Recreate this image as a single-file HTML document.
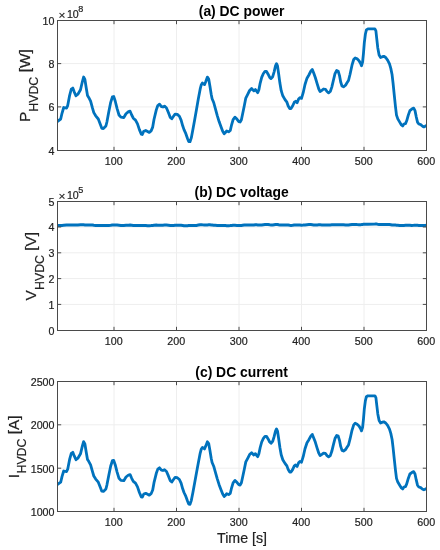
<!DOCTYPE html>
<html><head><meta charset="utf-8"><title>HVDC plots</title>
<style>
html,body{margin:0;padding:0;background:#fff;}
body{width:440px;height:550px;overflow:hidden;}
svg{display:block;}
text{font-family:"Liberation Sans", Arial, Helvetica, sans-serif;fill:#222222;stroke:#222222;stroke-width:0.2px;}
.tk{font-size:10.7px;}
.ti{font-size:13.9px;font-weight:bold;fill:#000;stroke:none;}
.yl{font-size:15.4px;}
.xl{font-size:14.2px;}
.sub{font-size:12.3px;}
.ex{font-size:10.6px;}
.mul{font-size:11.8px;}
.sup{font-size:9.1px;}
.grid line{stroke:#eeeeee;stroke-width:1;}
.axl line{stroke:#4a4a4a;stroke-width:1;}
.curve{fill:none;stroke:#0072BD;stroke-width:3;stroke-linejoin:round;stroke-linecap:butt;}
</style></head><body>
<svg width="440" height="550" viewBox="0 0 440 550">
<rect x="0" y="0" width="440" height="550" fill="#ffffff"/>

<g class="grid">
<line x1="114.0" y1="20.5" x2="114.0" y2="150.5"/>
<line x1="176.5" y1="20.5" x2="176.5" y2="150.5"/>
<line x1="239.0" y1="20.5" x2="239.0" y2="150.5"/>
<line x1="301.5" y1="20.5" x2="301.5" y2="150.5"/>
<line x1="364.0" y1="20.5" x2="364.0" y2="150.5"/>
<line x1="57.5" y1="106.9" x2="426.5" y2="106.9"/>
<line x1="57.5" y1="63.6" x2="426.5" y2="63.6"/>
</g>
<clipPath id="ca"><rect x="57.5" y="20.5" width="369.0" height="130.0"/></clipPath>
<path class="curve" style="stroke-width:2.8" clip-path="url(#ca)" d="M57.3,121.5 L60.7,119.0 L62.0,113.3 L63.7,107.5 L66.5,108.2 L67.7,105.6 L69.6,95.5 L71.3,89.1 L72.8,88.1 L74.1,91.6 L76.0,95.8 L77.9,94.2 L80.5,89.7 L82.4,81.5 L83.6,77.0 L84.9,79.5 L86.2,87.8 L87.5,95.5 L88.7,97.4 L90.6,101.2 L92.5,108.2 L93.8,112.6 L95.7,115.8 L98.3,119.0 L100.2,124.1 L101.8,128.3 L103.4,128.5 L105.9,126.0 L106.9,122.0 L108.8,111.8 L110.7,102.3 L112.4,96.8 L113.7,96.5 L115.2,101.0 L117.1,108.6 L119.0,115.0 L120.9,117.2 L123.8,117.5 L126.0,113.7 L128.5,111.6 L130.1,111.2 L131.7,115.0 L133.3,118.2 L135.5,120.1 L137.5,123.9 L139.4,129.6 L141.3,134.1 L142.3,134.5 L143.8,131.2 L145.7,130.5 L147.6,131.5 L149.3,132.4 L151.1,130.9 L152.7,127.1 L154.0,119.5 L156.3,109.9 L157.8,105.5 L159.5,104.2 L161.4,106.7 L162.9,107.0 L164.5,106.1 L166.5,108.0 L168.4,112.5 L170.3,117.5 L171.8,118.8 L173.5,116.3 L175.1,114.1 L177.3,114.4 L179.4,116.3 L181.1,120.1 L182.7,125.8 L184.0,129.6 L185.5,132.8 L187.5,138.5 L188.7,141.5 L190.0,141.7 L191.3,137.9 L192.9,129.6 L194.5,120.7 L196.4,109.9 L198.3,99.1 L200.2,88.9 L201.2,85.0 L202.4,83.0 L204.5,84.6 L205.8,81.5 L207.4,77.1 L208.7,79.0 L209.9,86.0 L211.2,94.3 L212.1,98.7 L213.7,102.5 L215.3,108.3 L217.2,115.3 L219.1,121.6 L221.0,126.7 L222.7,131.2 L224.2,133.7 L225.5,132.5 L226.7,130.9 L228.6,131.8 L230.3,130.5 L231.6,124.8 L233.1,119.7 L235.0,117.2 L236.9,119.1 L238.8,121.6 L240.1,122.0 L241.4,119.7 L242.6,114.0 L244.3,105.7 L245.8,98.1 L247.7,94.3 L249.6,90.5 L251.6,88.5 L253.8,90.9 L255.4,89.6 L256.6,91.2 L257.7,92.7 L258.9,89.7 L260.2,83.1 L261.7,77.4 L263.4,73.5 L265.0,71.4 L266.5,71.4 L268.1,74.2 L269.7,77.4 L271.0,78.6 L272.7,76.7 L274.2,71.6 L275.5,65.9 L276.5,63.7 L277.5,65.9 L278.6,73.5 L279.9,83.1 L281.2,90.7 L282.8,95.8 L285.0,99.6 L286.9,102.2 L288.2,106.0 L289.7,108.5 L291.0,108.5 L292.6,106.0 L294.3,102.2 L295.6,101.3 L297.1,102.8 L298.6,99.0 L299.9,97.7 L301.5,98.4 L303.2,92.7 L305.0,84.5 L307.0,78.2 L308.9,75.0 L310.8,71.2 L312.3,69.5 L313.7,73.1 L315.3,77.5 L317.2,83.9 L318.8,89.0 L320.1,91.5 L321.9,90.3 L323.5,89.0 L325.5,89.4 L327.0,91.5 L328.6,92.8 L330.3,91.5 L331.8,87.1 L333.3,80.7 L335.0,73.7 L336.7,70.5 L338.2,71.2 L339.5,75.6 L340.7,82.0 L342.0,86.1 L343.5,86.8 L345.6,85.2 L347.0,82.8 L348.5,80.5 L350.0,74.5 L352.0,65.2 L353.7,59.5 L355.2,57.9 L357.1,58.8 L359.0,60.7 L360.5,63.3 L361.5,65.8 L362.6,62.0 L363.5,53.1 L364.3,42.9 L365.4,34.0 L366.4,29.9 L367.9,28.9 L374.9,28.9 L375.9,30.8 L376.8,39.1 L377.8,48.0 L379.1,55.0 L380.6,57.5 L382.5,56.7 L383.8,56.3 L385.7,57.5 L387.6,60.1 L389.5,63.9 L390.8,68.4 L392.1,74.8 L393.1,83.5 L394.3,95.4 L395.5,106.8 L396.5,115.1 L397.8,118.9 L399.7,122.1 L401.4,124.9 L402.7,125.9 L403.9,124.0 L405.5,123.6 L406.7,120.8 L408.3,115.1 L409.9,110.6 L411.8,109.1 L413.7,108.1 L415.0,110.6 L416.3,117.0 L417.5,122.1 L418.8,124.0 L420.7,124.6 L422.6,126.2 L423.9,126.9 L425.2,126.2 L426.5,125.3"/>
<g class="axl">
<line x1="57.5" y1="20.5" x2="57.5" y2="150.5"/><line x1="426.5" y1="20.5" x2="426.5" y2="150.5"/>
<line x1="57.0" y1="20.5" x2="427.0" y2="20.5"/><line x1="57.0" y1="150.5" x2="427.0" y2="150.5"/>
<line x1="114.0" y1="150.5" x2="114.0" y2="146.8"/><line x1="114.0" y1="20.5" x2="114.0" y2="24.2"/>
<line x1="176.5" y1="150.5" x2="176.5" y2="146.8"/><line x1="176.5" y1="20.5" x2="176.5" y2="24.2"/>
<line x1="239.0" y1="150.5" x2="239.0" y2="146.8"/><line x1="239.0" y1="20.5" x2="239.0" y2="24.2"/>
<line x1="301.5" y1="150.5" x2="301.5" y2="146.8"/><line x1="301.5" y1="20.5" x2="301.5" y2="24.2"/>
<line x1="364.0" y1="150.5" x2="364.0" y2="146.8"/><line x1="364.0" y1="20.5" x2="364.0" y2="24.2"/>
<line x1="57.5" y1="106.9" x2="61.2" y2="106.9"/><line x1="426.5" y1="106.9" x2="422.8" y2="106.9"/>
<line x1="57.5" y1="63.6" x2="61.2" y2="63.6"/><line x1="426.5" y1="63.6" x2="422.8" y2="63.6"/>
</g>
<text class="tk" x="113.7" y="164.5" text-anchor="middle">100</text>
<text class="tk" x="176.2" y="164.5" text-anchor="middle">200</text>
<text class="tk" x="238.7" y="164.5" text-anchor="middle">300</text>
<text class="tk" x="301.2" y="164.5" text-anchor="middle">400</text>
<text class="tk" x="363.7" y="164.5" text-anchor="middle">500</text>
<text class="tk" x="426.2" y="164.5" text-anchor="middle">600</text>
<text class="tk" x="54.5" y="154.6" text-anchor="end">4</text>
<text class="tk" x="54.5" y="111.3" text-anchor="end">6</text>
<text class="tk" x="54.5" y="68.0" text-anchor="end">8</text>
<text class="tk" x="54.5" y="24.7" text-anchor="end">10</text>
<text class="ti" x="241.6" y="15.6" text-anchor="middle">(a) DC power</text>
<text class="mul" x="58.5" y="19.2">×</text><text class="ex" x="66.9" y="17.8">10</text><text class="sup" x="78.3" y="11.9">8</text>
<text class="yl" transform="translate(30.2,122.1) rotate(-90)">P</text>
<text class="sub" transform="translate(37.7,111.7) rotate(-90)">HVDC</text>
<text class="yl" transform="translate(30.2,72.3) rotate(-90)">[W]</text>
<g class="grid">
<line x1="114.0" y1="201.5" x2="114.0" y2="330.5"/>
<line x1="176.5" y1="201.5" x2="176.5" y2="330.5"/>
<line x1="239.0" y1="201.5" x2="239.0" y2="330.5"/>
<line x1="301.5" y1="201.5" x2="301.5" y2="330.5"/>
<line x1="364.0" y1="201.5" x2="364.0" y2="330.5"/>
<line x1="57.5" y1="304.4" x2="426.5" y2="304.4"/>
<line x1="57.5" y1="278.6" x2="426.5" y2="278.6"/>
<line x1="57.5" y1="252.8" x2="426.5" y2="252.8"/>
<line x1="57.5" y1="227.0" x2="426.5" y2="227.0"/>
</g>
<clipPath id="cb"><rect x="57.5" y="201.5" width="369.0" height="129.0"/></clipPath>
<path class="curve" style="stroke-width:3.0" clip-path="url(#cb)" d="M57.3,225.4 L60.7,225.5 L62.0,225.4 L63.7,225.3 L66.5,225.1 L67.7,225.0 L69.6,224.9 L71.3,224.9 L72.8,225.0 L74.1,225.1 L76.0,225.1 L77.9,224.9 L80.5,224.8 L82.4,224.7 L83.6,224.8 L84.9,224.9 L86.2,225.1 L87.5,225.1 L88.7,225.0 L90.6,225.0 L92.5,225.1 L93.8,225.3 L95.7,225.4 L98.3,225.5 L100.2,225.5 L101.8,225.4 L103.4,225.4 L105.9,225.4 L106.9,225.4 L108.8,225.4 L110.7,225.3 L112.4,225.1 L113.7,225.0 L115.2,225.0 L117.1,225.1 L119.0,225.3 L120.9,225.5 L123.8,225.5 L126.0,225.3 L128.5,225.2 L130.1,225.1 L131.7,225.2 L133.3,225.4 L135.5,225.5 L137.5,225.6 L139.4,225.6 L141.3,225.5 L142.3,225.4 L143.8,225.4 L145.7,225.5 L147.6,225.7 L149.3,225.7 L151.1,225.6 L152.7,225.4 L154.0,225.2 L156.3,225.1 L157.8,225.2 L159.5,225.3 L161.4,225.3 L162.9,225.2 L164.5,225.1 L166.5,225.1 L168.4,225.2 L170.3,225.4 L171.8,225.5 L173.5,225.5 L175.1,225.3 L177.3,225.2 L179.4,225.2 L181.1,225.3 L182.7,225.5 L184.0,225.7 L185.5,225.7 L187.5,225.7 L188.7,225.6 L190.0,225.5 L191.3,225.5 L192.9,225.5 L194.5,225.5 L196.4,225.4 L198.3,225.1 L200.2,224.8 L201.2,224.7 L202.4,224.8 L204.5,224.9 L205.8,225.0 L207.4,224.9 L208.7,224.8 L209.9,224.8 L211.2,224.9 L212.1,225.0 L213.7,225.2 L215.3,225.3 L217.2,225.4 L219.1,225.4 L221.0,225.4 L222.7,225.4 L224.2,225.5 L225.5,225.6 L226.7,225.7 L228.6,225.7 L230.3,225.6 L231.6,225.4 L233.1,225.2 L235.0,225.3 L236.9,225.4 L238.8,225.5 L240.1,225.5 L241.4,225.4 L242.6,225.2 L244.3,225.0 L245.8,225.0 L247.7,225.1 L249.6,225.1 L251.6,225.1 L253.8,225.0 L255.4,224.8 L256.6,224.8 L257.7,224.9 L258.9,225.0 L260.2,225.0 L261.7,224.9 L263.4,224.7 L265.0,224.6 L266.5,224.5 L268.1,224.6 L269.7,224.8 L271.0,224.9 L272.7,224.9 L274.2,224.7 L275.5,224.5 L276.5,224.4 L277.5,224.5 L278.6,224.8 L279.9,225.0 L281.2,225.1 L282.8,225.1 L285.0,225.0 L286.9,225.0 L288.2,225.1 L289.7,225.3 L291.0,225.4 L292.6,225.3 L294.3,225.1 L295.6,225.0 L297.1,225.0 L298.6,225.0 L299.9,225.1 L301.5,225.2 L303.2,225.1 L305.0,224.9 L307.0,224.7 L308.9,224.6 L310.8,224.6 L312.3,224.7 L313.7,224.9 L315.3,224.9 L317.2,224.9 L318.8,224.8 L320.1,224.8 L321.9,224.9 L323.5,225.0 L325.5,225.1 L327.0,225.1 L328.6,225.0 L330.3,224.9 L331.8,224.8 L333.3,224.7 L335.0,224.8 L336.7,224.8 L338.2,224.8 L339.5,224.8 L340.7,224.7 L342.0,224.7 L343.5,224.8 L345.6,224.9 L347.0,225.0 L348.5,224.9 L350.0,224.7 L352.0,224.5 L353.7,224.4 L355.2,224.4 L357.1,224.6 L359.0,224.7 L360.5,224.7 L361.5,224.6 L362.6,224.4 L363.5,224.3 L364.3,224.2 L365.4,224.2 L366.4,224.2 L367.9,224.2 L374.9,224.1 L375.9,224.0 L376.8,224.1 L377.8,224.3 L379.1,224.5 L380.6,224.6 L382.5,224.6 L383.8,224.5 L385.7,224.4 L387.6,224.4 L389.5,224.5 L390.8,224.7 L392.1,224.9 L393.1,225.0 L394.3,225.0 L395.5,225.1 L396.5,225.2 L397.8,225.3 L399.7,225.5 L401.4,225.6 L402.7,225.6 L403.9,225.4 L405.5,225.3 L406.7,225.2 L408.3,225.3 L409.9,225.3 L411.8,225.4 L413.7,225.3 L415.0,225.2 L416.3,225.2 L417.5,225.3 L418.8,225.4 L420.7,225.5 L422.6,225.6 L423.9,225.6 L425.2,225.5 L426.5,225.3"/>
<g class="axl">
<line x1="57.5" y1="201.5" x2="57.5" y2="330.5"/><line x1="426.5" y1="201.5" x2="426.5" y2="330.5"/>
<line x1="57.0" y1="201.5" x2="427.0" y2="201.5"/><line x1="57.0" y1="330.5" x2="427.0" y2="330.5"/>
<line x1="114.0" y1="330.5" x2="114.0" y2="326.8"/><line x1="114.0" y1="201.5" x2="114.0" y2="205.2"/>
<line x1="176.5" y1="330.5" x2="176.5" y2="326.8"/><line x1="176.5" y1="201.5" x2="176.5" y2="205.2"/>
<line x1="239.0" y1="330.5" x2="239.0" y2="326.8"/><line x1="239.0" y1="201.5" x2="239.0" y2="205.2"/>
<line x1="301.5" y1="330.5" x2="301.5" y2="326.8"/><line x1="301.5" y1="201.5" x2="301.5" y2="205.2"/>
<line x1="364.0" y1="330.5" x2="364.0" y2="326.8"/><line x1="364.0" y1="201.5" x2="364.0" y2="205.2"/>
<line x1="57.5" y1="304.4" x2="61.2" y2="304.4"/><line x1="426.5" y1="304.4" x2="422.8" y2="304.4"/>
<line x1="57.5" y1="278.6" x2="61.2" y2="278.6"/><line x1="426.5" y1="278.6" x2="422.8" y2="278.6"/>
<line x1="57.5" y1="252.8" x2="61.2" y2="252.8"/><line x1="426.5" y1="252.8" x2="422.8" y2="252.8"/>
<line x1="57.5" y1="227.0" x2="61.2" y2="227.0"/><line x1="426.5" y1="227.0" x2="422.8" y2="227.0"/>
</g>
<text class="tk" x="113.7" y="344.5" text-anchor="middle">100</text>
<text class="tk" x="176.2" y="344.5" text-anchor="middle">200</text>
<text class="tk" x="238.7" y="344.5" text-anchor="middle">300</text>
<text class="tk" x="301.2" y="344.5" text-anchor="middle">400</text>
<text class="tk" x="363.7" y="344.5" text-anchor="middle">500</text>
<text class="tk" x="426.2" y="344.5" text-anchor="middle">600</text>
<text class="tk" x="54.5" y="334.6" text-anchor="end">0</text>
<text class="tk" x="54.5" y="308.8" text-anchor="end">1</text>
<text class="tk" x="54.5" y="283.0" text-anchor="end">2</text>
<text class="tk" x="54.5" y="257.2" text-anchor="end">3</text>
<text class="tk" x="54.5" y="231.4" text-anchor="end">4</text>
<text class="tk" x="54.5" y="205.6" text-anchor="end">5</text>
<text class="ti" x="241.6" y="196.6" text-anchor="middle">(b) DC voltage</text>
<text class="mul" x="58.5" y="200.2">×</text><text class="ex" x="66.9" y="198.8">10</text><text class="sup" x="78.3" y="192.9">5</text>
<text class="yl" transform="translate(36.2,300.6) rotate(-90)">V</text>
<text class="sub" transform="translate(44.1,289.9) rotate(-90)">HVDC</text>
<text class="yl" transform="translate(36.2,250.8) rotate(-90)">[V]</text>
<g class="grid">
<line x1="114.0" y1="381.5" x2="114.0" y2="511.5"/>
<line x1="176.5" y1="381.5" x2="176.5" y2="511.5"/>
<line x1="239.0" y1="381.5" x2="239.0" y2="511.5"/>
<line x1="301.5" y1="381.5" x2="301.5" y2="511.5"/>
<line x1="364.0" y1="381.5" x2="364.0" y2="511.5"/>
<line x1="57.5" y1="468.2" x2="426.5" y2="468.2"/>
<line x1="57.5" y1="424.8" x2="426.5" y2="424.8"/>
</g>
<clipPath id="cc"><rect x="57.5" y="381.5" width="369.0" height="130.0"/></clipPath>
<path class="curve" style="stroke-width:2.8" clip-path="url(#cc)" d="M57.3,484.6 L60.7,482.2 L62.0,476.6 L63.7,471.0 L66.5,471.7 L67.7,469.2 L69.6,459.4 L71.3,453.3 L72.8,452.3 L74.1,455.7 L76.0,459.7 L77.9,458.2 L80.5,453.8 L82.4,445.9 L83.6,441.6 L84.9,444.0 L86.2,452.0 L87.5,459.4 L88.7,461.3 L90.6,464.9 L92.5,471.7 L93.8,476.0 L95.7,479.1 L98.3,482.2 L100.2,487.1 L101.8,491.2 L103.4,491.4 L105.9,489.0 L106.9,485.1 L108.8,475.2 L110.7,466.0 L112.4,460.7 L113.7,460.4 L115.2,464.7 L117.1,472.1 L119.0,478.3 L120.9,480.4 L123.8,480.7 L126.0,477.0 L128.5,475.0 L130.1,474.6 L131.7,478.3 L133.3,481.4 L135.5,483.2 L137.5,486.9 L139.4,492.5 L141.3,496.9 L142.3,497.2 L143.8,494.0 L145.7,493.3 L147.6,494.3 L149.3,495.2 L151.1,493.7 L152.7,490.0 L154.0,482.7 L156.3,473.3 L157.8,469.1 L159.5,467.8 L161.4,470.2 L162.9,470.5 L164.5,469.7 L166.5,471.5 L168.4,475.9 L170.3,480.7 L171.8,482.0 L173.5,479.5 L175.1,477.4 L177.3,477.7 L179.4,479.5 L181.1,483.2 L182.7,488.8 L184.0,492.5 L185.5,495.6 L187.5,501.1 L188.7,504.1 L190.0,504.3 L191.3,500.6 L192.9,492.5 L194.5,483.8 L196.4,473.3 L198.3,462.9 L200.2,453.1 L201.2,449.3 L202.4,447.4 L204.5,448.9 L205.8,445.9 L207.4,441.7 L208.7,443.5 L209.9,450.3 L211.2,458.3 L212.1,462.5 L213.7,466.2 L215.3,471.8 L217.2,478.6 L219.1,484.7 L221.0,489.7 L222.7,494.0 L224.2,496.5 L225.5,495.3 L226.7,493.7 L228.6,494.6 L230.3,493.3 L231.6,487.8 L233.1,482.8 L235.0,480.4 L236.9,482.3 L238.8,484.7 L240.1,485.1 L241.4,482.8 L242.6,477.3 L244.3,469.3 L245.8,461.9 L247.7,458.3 L249.6,454.6 L251.6,452.7 L253.8,455.0 L255.4,453.7 L256.6,455.3 L257.7,456.7 L258.9,453.8 L260.2,447.5 L261.7,442.0 L263.4,438.3 L265.0,436.3 L266.5,436.3 L268.1,438.9 L269.7,442.0 L271.0,443.2 L272.7,441.3 L274.2,436.4 L275.5,431.0 L276.5,428.9 L277.5,431.0 L278.6,438.3 L279.9,447.5 L281.2,454.8 L282.8,459.7 L285.0,463.4 L286.9,465.9 L288.2,469.6 L289.7,472.0 L291.0,472.0 L292.6,469.6 L294.3,465.9 L295.6,465.0 L297.1,466.5 L298.6,462.8 L299.9,461.5 L301.5,462.2 L303.2,456.7 L305.0,448.8 L307.0,442.8 L308.9,439.7 L310.8,436.1 L312.3,434.4 L313.7,437.9 L315.3,442.1 L317.2,448.3 L318.8,453.2 L320.1,455.6 L321.9,454.4 L323.5,453.2 L325.5,453.5 L327.0,455.6 L328.6,456.8 L330.3,455.6 L331.8,451.3 L333.3,445.2 L335.0,438.5 L336.7,435.4 L338.2,436.1 L339.5,440.3 L340.7,446.4 L342.0,450.4 L343.5,451.0 L345.6,449.5 L347.0,447.2 L348.5,445.0 L350.0,439.2 L352.0,430.3 L353.7,424.9 L355.2,423.3 L357.1,424.2 L359.0,426.0 L360.5,428.5 L361.5,430.9 L362.6,427.3 L363.5,418.8 L364.3,409.0 L365.4,400.6 L366.4,396.7 L367.9,395.8 L374.9,395.8 L375.9,397.6 L376.8,405.4 L377.8,413.9 L379.1,420.6 L380.6,423.0 L382.5,422.2 L383.8,421.8 L385.7,423.0 L387.6,425.4 L389.5,429.1 L390.8,433.4 L392.1,439.5 L393.1,447.9 L394.3,459.3 L395.5,470.3 L396.5,478.4 L397.8,482.1 L399.7,485.2 L401.4,487.9 L402.7,488.9 L403.9,487.0 L405.5,486.6 L406.7,483.9 L408.3,478.4 L409.9,474.0 L411.8,472.6 L413.7,471.6 L415.0,474.0 L416.3,480.2 L417.5,485.2 L418.8,487.0 L420.7,487.6 L422.6,489.2 L423.9,489.8 L425.2,489.2 L426.5,488.3"/>
<g class="axl">
<line x1="57.5" y1="381.5" x2="57.5" y2="511.5"/><line x1="426.5" y1="381.5" x2="426.5" y2="511.5"/>
<line x1="57.0" y1="381.5" x2="427.0" y2="381.5"/><line x1="57.0" y1="511.5" x2="427.0" y2="511.5"/>
<line x1="114.0" y1="511.5" x2="114.0" y2="507.8"/><line x1="114.0" y1="381.5" x2="114.0" y2="385.2"/>
<line x1="176.5" y1="511.5" x2="176.5" y2="507.8"/><line x1="176.5" y1="381.5" x2="176.5" y2="385.2"/>
<line x1="239.0" y1="511.5" x2="239.0" y2="507.8"/><line x1="239.0" y1="381.5" x2="239.0" y2="385.2"/>
<line x1="301.5" y1="511.5" x2="301.5" y2="507.8"/><line x1="301.5" y1="381.5" x2="301.5" y2="385.2"/>
<line x1="364.0" y1="511.5" x2="364.0" y2="507.8"/><line x1="364.0" y1="381.5" x2="364.0" y2="385.2"/>
<line x1="57.5" y1="468.2" x2="61.2" y2="468.2"/><line x1="426.5" y1="468.2" x2="422.8" y2="468.2"/>
<line x1="57.5" y1="424.8" x2="61.2" y2="424.8"/><line x1="426.5" y1="424.8" x2="422.8" y2="424.8"/>
</g>
<text class="tk" x="113.7" y="525.5" text-anchor="middle">100</text>
<text class="tk" x="176.2" y="525.5" text-anchor="middle">200</text>
<text class="tk" x="238.7" y="525.5" text-anchor="middle">300</text>
<text class="tk" x="301.2" y="525.5" text-anchor="middle">400</text>
<text class="tk" x="363.7" y="525.5" text-anchor="middle">500</text>
<text class="tk" x="426.2" y="525.5" text-anchor="middle">600</text>
<text class="tk" x="54.5" y="516.0" text-anchor="end">1000</text>
<text class="tk" x="54.5" y="472.6" text-anchor="end">1500</text>
<text class="tk" x="54.5" y="429.2" text-anchor="end">2000</text>
<text class="tk" x="54.5" y="385.8" text-anchor="end">2500</text>
<text class="ti" x="241.6" y="376.6" text-anchor="middle">(c) DC current</text>
<text class="yl" transform="translate(18.5,478.2) rotate(-90)">I</text>
<text class="sub" transform="translate(26.3,473.5) rotate(-90)">HVDC</text>
<text class="yl" transform="translate(18.5,434.3) rotate(-90)">[A]</text>
<text class="xl" x="242.0" y="543.0" text-anchor="middle">Time [s]</text>
</svg></body></html>
